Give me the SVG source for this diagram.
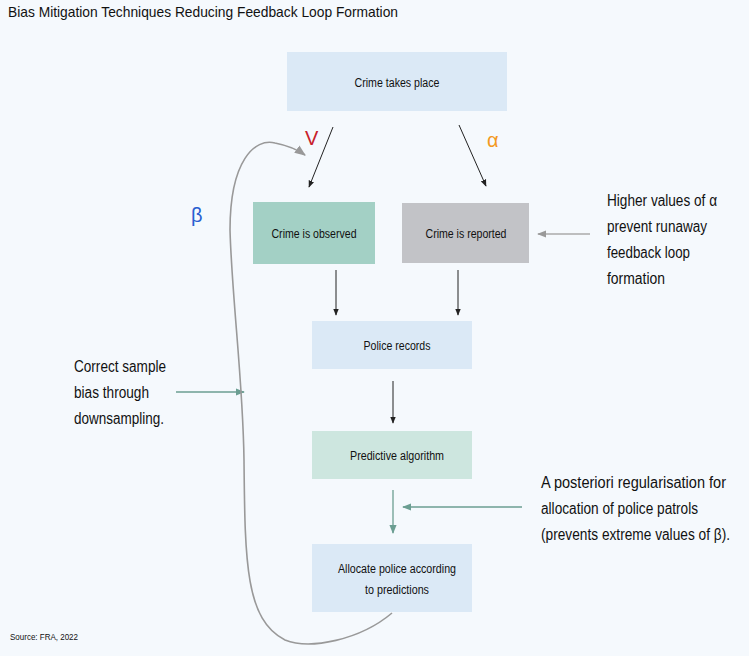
<svg xmlns="http://www.w3.org/2000/svg" width="749" height="656" viewBox="0 0 749 656">
<defs>
<style>
text{font-family:"Liberation Sans",Arial,sans-serif;fill:#111}
.lbl{font-size:12px;text-anchor:middle}
.note{font-size:16px}
.k{stroke:#222;stroke-width:1;fill:none}
.g{stroke:#6b9e92;stroke-width:1.3;fill:none}
</style>
<marker id="ak" viewBox="0 0 10 10" refX="9" refY="5" markerWidth="7" markerHeight="7" orient="auto"><path d="M0,1L10,5L0,9z" fill="#222"/></marker>
<marker id="ag" viewBox="0 0 10 10" refX="9" refY="5" markerWidth="7" markerHeight="7" orient="auto"><path d="M0,1L10,5L0,9z" fill="#6b9e92"/></marker>
<marker id="ay" viewBox="0 0 10 10" refX="9" refY="5" markerWidth="7" markerHeight="7" orient="auto"><path d="M0,1L10,5L0,9z" fill="#999"/></marker>
</defs>
<rect width="749" height="656" fill="#f5f9fd"/>
<text x="8" y="17" style="font-size:15px" textLength="390" lengthAdjust="spacingAndGlyphs">Bias Mitigation Techniques Reducing Feedback Loop Formation</text>
<g id="connectors">
<line class="k" x1="333" y1="127" x2="309" y2="187" marker-end="url(#ak)"/>
<line class="k" x1="459" y1="125" x2="486" y2="186" marker-end="url(#ak)"/>
<line class="k" x1="336" y1="270" x2="336" y2="315" marker-end="url(#ak)"/>
<line class="k" x1="458" y1="270" x2="458" y2="315" marker-end="url(#ak)"/>
<line class="k" x1="393" y1="381" x2="393" y2="423" marker-end="url(#ak)"/>
<line class="g" x1="393" y1="490" x2="393" y2="533" marker-end="url(#ag)"/>
<line class="g" x1="522" y1="507" x2="403" y2="507" marker-end="url(#ag)"/>
<line stroke="#aaa" stroke-width="1.3" x1="590" y1="234" x2="538" y2="234" marker-end="url(#ay)"/>
<line class="g" x1="176" y1="392" x2="244" y2="392" marker-end="url(#ag)"/>
<path d="M392,613 C360,640 310,650 285,640 C245,620 245,560 244,460 C243,380 232,300 230,230 C230,160 255,138 275,143 C290,146 298,150 305,155" fill="none" stroke="#999" stroke-width="1.6" marker-end="url(#ay)"/>
</g>
<g id="n1"><rect x="287" y="52" width="220" height="59" fill="#dbe9f6"/><text class="lbl" x="397" y="87" textLength="85" lengthAdjust="spacingAndGlyphs">Crime takes place</text></g>
<g id="n2"><rect x="253" y="202" width="122" height="62" fill="#a3d0c5"/><text class="lbl" x="314" y="238" textLength="85" lengthAdjust="spacingAndGlyphs">Crime is observed</text></g>
<g id="n3"><rect x="402" y="203" width="127" height="60" fill="#c2c3c7"/><text class="lbl" x="466" y="238" textLength="81" lengthAdjust="spacingAndGlyphs">Crime is reported</text></g>
<g id="n4"><rect x="312" y="321" width="160" height="48" fill="#dbe9f6"/><text class="lbl" x="397" y="350" textLength="67" lengthAdjust="spacingAndGlyphs">Police records</text></g>
<g id="n5"><rect x="312" y="431" width="160" height="48" fill="#cde6df"/><text class="lbl" x="397" y="460" textLength="94" lengthAdjust="spacingAndGlyphs">Predictive algorithm</text></g>
<g id="n6"><rect x="312" y="544" width="160" height="68" fill="#dbe9f6"/><text class="lbl" x="397" y="573" textLength="118" lengthAdjust="spacingAndGlyphs">Allocate police according</text><text class="lbl" x="397" y="594" textLength="64" lengthAdjust="spacingAndGlyphs">to predictions</text></g>
<text x="305" y="145" style="font-size:20px;fill:#c8202b">V</text>
<text x="487" y="147" style="font-size:20px;fill:#f39a1e">α</text>
<text x="191" y="222" style="font-size:20px;fill:#2a5fd0">β</text>
<g id="notes">
<text class="note" x="607" y="206" textLength="110" lengthAdjust="spacingAndGlyphs">Higher values of α</text>
<text class="note" x="607" y="232" textLength="100" lengthAdjust="spacingAndGlyphs">prevent runaway</text>
<text class="note" x="607" y="258" textLength="83" lengthAdjust="spacingAndGlyphs">feedback loop</text>
<text class="note" x="607" y="284" textLength="58" lengthAdjust="spacingAndGlyphs">formation</text>
<text class="note" x="74" y="372" textLength="92" lengthAdjust="spacingAndGlyphs">Correct sample</text>
<text class="note" x="74" y="398" textLength="75" lengthAdjust="spacingAndGlyphs">bias through</text>
<text class="note" x="74" y="424" textLength="90" lengthAdjust="spacingAndGlyphs">downsampling.</text>
<text class="note" x="541" y="488" textLength="185" lengthAdjust="spacingAndGlyphs">A posteriori regularisation for</text>
<text class="note" x="541" y="514" textLength="157" lengthAdjust="spacingAndGlyphs">allocation of police patrols</text>
<text class="note" x="541" y="540" textLength="189" lengthAdjust="spacingAndGlyphs">(prevents extreme values of β).</text>
</g>
<text x="10" y="640" style="font-size:9px" textLength="68" lengthAdjust="spacingAndGlyphs">Source: FRA, 2022</text>
</svg>
